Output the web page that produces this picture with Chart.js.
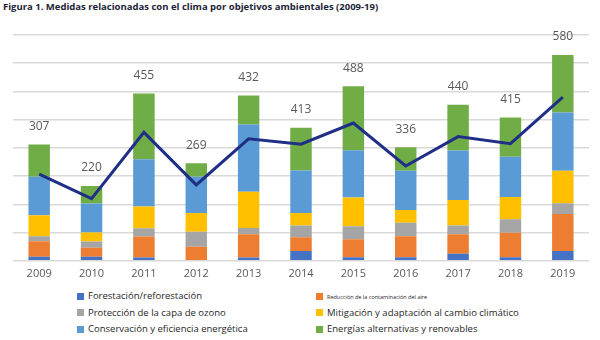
<!DOCTYPE html>
<html>
<head>
<meta charset="utf-8">
<script src="https://cdn.jsdelivr.net/npm/chart.js@4/dist/chart.umd.min.js"></script>
<style>
  body { margin: 0; width: 600px; height: 340px; background: #fff; position: relative; overflow: hidden; font-family: "Open Sans", sans-serif; }
  #title { position: absolute; left: 3px; top: 0px; font-weight: bold; font-size: 9.5px; color: #1c2437; white-space: nowrap; transform-origin: left top; }
  #wrap { position: absolute; left: 0; top: 0; width: 600px; height: 278px; }
  #legend { position: absolute; left: 0; top: 288px; width: 600px; }
  .item { position: absolute; white-space: nowrap; font-size: 9.5px; color: #262626; line-height: 16px; }
  .item i { display: inline-block; width: 7px; height: 7px; margin-right: 4px; vertical-align: -0.5px; }
  .item span { display: inline-block; transform-origin: left center; }
</style>
</head>
<body>
<div id="title">Figura 1. Medidas relacionadas con el clima por objetivos ambientales (2009-19)</div>
<div id="wrap"><canvas id="chart" width="600" height="278"></canvas></div>
<div id="legend"></div>
<script>
// data
const years = ['2009', '2010', '2011', '2012', '2013', '2014', '2015', '2016', '2017', '2018', '2019'];
const forestacion  = [14, 14, 12, 0, 12, 35, 13, 13, 25, 13, 35];
const reduccion    = [55, 32, 74, 50, 82, 48, 63, 74, 69, 86, 131];
const proteccion   = [18, 22, 29, 53, 22, 42, 46, 48, 31, 48, 38];
const mitigacion   = [74, 32, 77, 66, 129, 44, 102, 45, 90, 79, 115];
const conservacion = [137, 103, 168, 129, 238, 151, 168, 139, 176, 143, 206];
const energias     = [114, 62, 233, 48, 103, 151, 226, 83, 162, 139, 204];
const totales      = [307, 220, 455, 269, 432, 413, 488, 336, 440, 415, 580];

const barSeries = [
    { label: 'Forestación/reforestación', data: forestacion, color: '#4472c4' },
    { label: 'Reducción de la contaminación del aire', data: reduccion, color: '#ed7d31', small: true },
    { label: 'Protección de la capa de ozono', data: proteccion, color: '#a5a5a5' },
    { label: 'Mitigación y adaptación al cambio climático', data: mitigacion, color: '#ffc000' },
    { label: 'Conservación y eficiencia energética', data: conservacion, color: '#5b9bd5' },
    { label: 'Energías alternativas y renovables', data: energias, color: '#70ad47' }
];

const datasets = barSeries.map(s => ({
    type: 'bar',
    label: s.label,
    data: s.data,
    backgroundColor: s.color,
    stack: 'a',
    order: 2,
    categoryPercentage: 1,
    barPercentage: 0.41
}));
datasets.push({
    type: 'line',
    label: 'Total',
    data: totales,
    yAxisID: 'y2',
    borderColor: '#1f2f86',
    borderWidth: 3,
    pointRadius: 0,
    tension: 0,
    order: 1
});

// totals printed above each bar
const totalLabels = {
    id: 'totalLabels',
    afterDatasetsDraw(chart) {
        const ctx = chart.ctx;
        const top = chart.getDatasetMeta(barSeries.length - 1);
        ctx.save();
        ctx.font = '12px "Open Sans"';
        ctx.fillStyle = '#595959';
        ctx.textAlign = 'center';
        ctx.textBaseline = 'middle';
        top.data.forEach((bar, i) => {
            ctx.fillText(String(totales[i]), bar.x, bar.y - 18);
        });
        ctx.restore();
    }
};

new Chart(document.getElementById('chart'), {
    data: { labels: years, datasets: datasets },
    options: {
        responsive: false,
        devicePixelRatio: 1,
        animation: false,
        layout: { padding: { left: 13, right: 11, top: 35, bottom: 0 } },
        plugins: { legend: { display: false }, tooltip: { enabled: false } },
        scales: {
            x: {
                stacked: true,
                grid: { display: false },
                border: { display: false },
                ticks: { color: '#595959', font: { family: 'Open Sans', size: 11 }, padding: -2 }
            },
            y: {
                stacked: true,
                min: 0, max: 800,
                ticks: { stepSize: 100, display: false },
                border: { display: false },
                grid: { color: '#d9d9d9', lineWidth: 1.5, drawTicks: false }
            },
            y2: {
                display: false,
                min: 0, max: 800
            }
        }
    },
    plugins: [totalLabels]
});

// legend in two columns, row by row
const legend = document.getElementById('legend');
barSeries.forEach((s, i) => {
    const d = document.createElement('div');
    d.className = 'item';
    d.style.left = (i % 2 === 0 ? 77 : 316) + 'px';
    d.style.top = (Math.floor(i / 2) * 16.5) + 'px';
    d.innerHTML = '<i style="background:' + s.color + '"></i><span' + (s.small ? ' style="font-size:5.5px"' : '') + '>' + s.label + '</span>';
    legend.appendChild(d);
});
</script>
</body>
</html>
